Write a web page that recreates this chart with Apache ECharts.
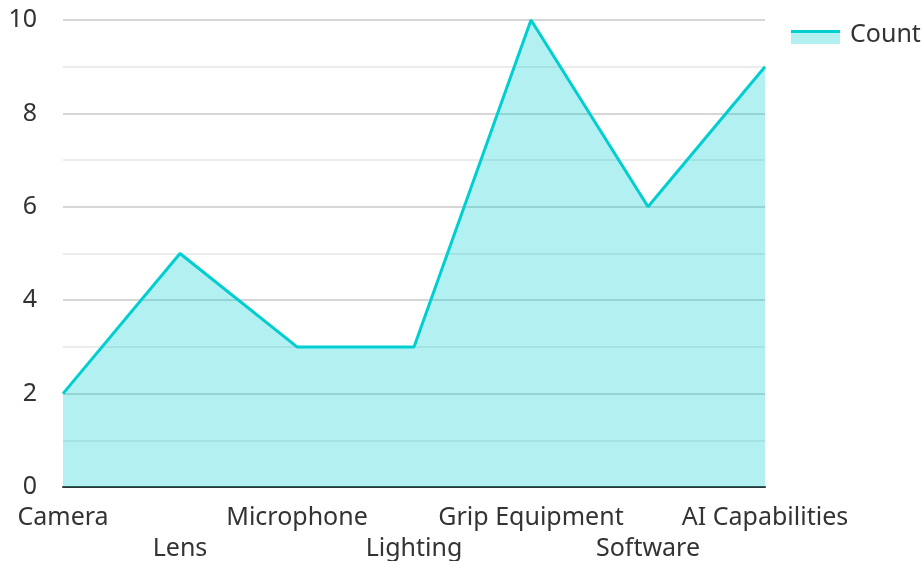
<!DOCTYPE html>
<html><head><meta charset="utf-8">
<script src="https://cdn.jsdelivr.net/npm/echarts@6/dist/echarts.min.js"></script>
<style>html,body{margin:0;padding:0;background:#fff}#c{width:922px;height:561px}</style>
</head><body><div id="c"></div>
<script>
const categories = ['Camera','Lens','Microphone','Lighting','Grip Equipment','Software','AI Capabilities'];
const counts = [2,5,3,3,10,6,9];
const chart = echarts.init(document.getElementById('c'));
chart.setOption({
  animation:false,
  textStyle:{fontFamily:'Noto Sans'},
  legend:{data:['Count'],left:790,top:17,itemWidth:50,itemHeight:14,itemGap:10,
    icon:'rect',itemStyle:{opacity:0},lineStyle:{opacity:0},
    textStyle:{fontSize:25,color:'#333',fontFamily:'Noto Sans'}},
  grid:{left:63,right:157,top:20,bottom:74,containLabel:false,outerBoundsMode:'none'},
  xAxis:{type:'category',data:categories,boundaryGap:false,
    axisLine:{lineStyle:{color:'#333',width:2}},axisTick:{show:false},
    axisLabel:{fontSize:25,color:'#333',margin:15,interval:0,lineHeight:31,
      formatter:(v,i)=> i%2===1 ? '\n'+v : v},
    splitLine:{show:false}},
  yAxis:{type:'value',min:0,max:10,interval:2,
    axisLine:{show:false},axisTick:{show:false},
    axisLabel:{fontSize:25,color:'#333',margin:26},
    splitLine:{lineStyle:{color:'#c8c8c8',width:1.5}},
    minorTick:{show:false,splitNumber:2},
    minorSplitLine:{show:true,lineStyle:{color:'#e6e6e6',width:1.5}}},
  series:[{name:'Count',type:'line',data:counts,symbol:'none',
    lineStyle:{color:'#00CED1',width:3},itemStyle:{color:'#00CED1'},
    areaStyle:{color:'#00CED1',opacity:0.3}}],
  graphic:[{type:'group',left:791,top:30,children:[
    {type:'rect',shape:{x:0,y:3,width:49,height:11},style:{fill:'rgba(0,206,209,0.3)'}},
    {type:'rect',shape:{x:0,y:0,width:49,height:3},style:{fill:'#00CED1'}}
  ]}]
});
</script></body></html>
